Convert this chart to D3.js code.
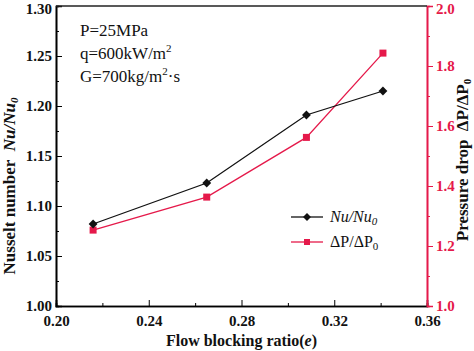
<!DOCTYPE html>
<meta charset="utf-8">
<script src="https://d3js.org/d3.v7.min.js"></script>
<style>
  body { margin: 0; background: #fff; }
  svg text { font-family: "Liberation Serif", "DejaVu Serif", serif; }
</style>
<body>
<div id="chart"></div>
<script>
// data
var blockRatio = [0.216, 0.265, 0.308, 0.341];
var nuRatio = [1.082, 1.123, 1.191, 1.215];
var dpRatio = [1.253, 1.363, 1.562, 1.843];
var xTicks = [0.20, 0.24, 0.28, 0.32, 0.36];
var yTicks = [1.00, 1.05, 1.10, 1.15, 1.20, 1.25, 1.30];
var y2Ticks = [1.0, 1.2, 1.4, 1.6, 1.8, 2.0];

var width = 474, height = 351;
var margin = {top: 6, right: 47, bottom: 45, left: 56};
var w = width - margin.left - margin.right;
var h = height - margin.top - margin.bottom;
var red = "#e5194a";

var svg = d3.select("#chart").append("svg")
  .attr("width", width).attr("height", height);
var g = svg.append("g")
  .attr("transform", "translate(" + margin.left + "," + margin.top + ")");

var x = d3.scaleLinear().domain([0.20, 0.36]).range([0, w]);
var y = d3.scaleLinear().domain([1.00, 1.30]).range([h, 0]);
var y2 = d3.scaleLinear().domain([1.0, 2.0]).range([h, 0]);

// minor ticks
var xMinor = d3.range(0.22, 0.36, 0.04);
var yMinor = d3.range(1.025, 1.30, 0.05);
var y2Minor = d3.range(1.1, 2.0, 0.2);

// bottom axis, ticks inward
var xAxis = g.append("g").attr("transform", "translate(0," + h + ")")
  .call(d3.axisBottom(x).tickValues(xTicks).tickFormat(d3.format(".2f")).tickSize(-6).tickPadding(9));
g.append("g").attr("transform", "translate(0," + h + ")")
  .call(d3.axisBottom(x).tickValues(xMinor).tickFormat("").tickSize(-3));

// left axis, ticks inward
var yAxis = g.append("g")
  .call(d3.axisLeft(y).tickValues(yTicks).tickFormat(d3.format(".2f")).tickSize(-6).tickPadding(4));
g.append("g")
  .call(d3.axisLeft(y).tickValues(yMinor).tickFormat("").tickSize(-3));

// right axis, red, ticks outward
var y2Axis = g.append("g").attr("transform", "translate(" + w + ",0)")
  .call(d3.axisRight(y2).tickValues(y2Ticks).tickFormat(d3.format(".1f")).tickSize(6).tickPadding(3));
var y2Min = g.append("g").attr("transform", "translate(" + w + ",0)")
  .call(d3.axisRight(y2).tickValues(y2Minor).tickFormat("").tickSize(3));

// top frame
g.append("line").attr("x1", 0).attr("x2", w).attr("y1", 0).attr("y2", 0)
  .attr("stroke", "#222").attr("stroke-width", 1.6);

g.selectAll(".domain").attr("stroke-width", 1.6);
[xAxis, yAxis].forEach(function(a) {
  a.selectAll("text").attr("font-size", 15).attr("font-weight", "bold").attr("fill", "#111");
});
y2Axis.selectAll("text").attr("font-size", 15).attr("font-weight", "bold").attr("fill", red);
y2Axis.selectAll("line, path").attr("stroke", red);
y2Min.selectAll("line, path").attr("stroke", red);
g.selectAll("text").attr("font-family", "Liberation Serif, serif");

// keep the top labels inside the page
yAxis.selectAll(".tick text").filter(function(d) { return d === 1.30; }).attr("dy", "0.5em");
y2Axis.selectAll(".tick text").filter(function(d) { return d === 2.0; }).attr("dy", "0.5em");

// lines
var lineNu = d3.line().x(function(d, i) { return x(blockRatio[i]); }).y(function(d) { return y(d); });
var lineDp = d3.line().x(function(d, i) { return x(blockRatio[i]); }).y(function(d) { return y2(d); });

g.append("path").datum(dpRatio).attr("d", lineDp)
  .attr("fill", "none").attr("stroke", red).attr("stroke-width", 1.3);
g.append("path").datum(nuRatio).attr("d", lineNu)
  .attr("fill", "none").attr("stroke", "#111").attr("stroke-width", 1.3);

g.selectAll(".sq").data(dpRatio).enter().append("rect")
  .attr("x", function(d, i) { return x(blockRatio[i]) - 3.5; })
  .attr("y", function(d) { return y2(d) - 3.5; })
  .attr("width", 7).attr("height", 7).attr("fill", red);

var diamond = d3.symbol().type(d3.symbolDiamond2).size(50);
g.selectAll(".dm").data(nuRatio).enter().append("path")
  .attr("d", diamond)
  .attr("transform", function(d, i) { return "translate(" + x(blockRatio[i]) + "," + y(d) + ")"; })
  .attr("fill", "#111");

// annotation
var note = g.append("text").attr("font-size", 17).attr("fill", "#111");
note.append("tspan").attr("x", 24).attr("y", 30).text("P=25MPa");
note.append("tspan").attr("x", 24).attr("y", 53).text("q=600kW/m");
note.append("tspan").attr("dy", -7).attr("font-size", 11).text("2");
note.append("tspan").attr("x", 24).attr("y", 76).text("G=700kg/m");
note.append("tspan").attr("dy", -7).attr("font-size", 11).text("2");
note.append("tspan").attr("dy", 7).text("·s");

// legend
var leg = g.append("g").attr("transform", "translate(" + (291 - margin.left) + "," + (217 - margin.top) + ")");
leg.append("line").attr("x1", 0).attr("x2", 32).attr("stroke", "#111").attr("stroke-width", 1.3);
leg.append("path").attr("d", d3.symbol().type(d3.symbolDiamond2).size(40)).attr("transform", "translate(16,0)").attr("fill", "#111");
var l1 = leg.append("text").attr("x", 39).attr("y", 5).attr("font-size", 16).attr("fill", "#111");
l1.append("tspan").attr("font-style", "italic").text("Nu/Nu");
l1.append("tspan").attr("font-style", "italic").attr("font-size", 11).attr("dy", 3).text("0");
leg.append("line").attr("x1", 0).attr("x2", 32).attr("y1", 25).attr("y2", 25).attr("stroke", red).attr("stroke-width", 1.3);
leg.append("rect").attr("x", 13).attr("y", 22).attr("width", 6).attr("height", 6).attr("fill", red);
var l2 = leg.append("text").attr("x", 39).attr("y", 30).attr("font-size", 16).attr("fill", "#111");
l2.append("tspan").text("ΔP/ΔP");
l2.append("tspan").attr("font-size", 11).attr("dy", 3).text("0");

// axis titles
svg.append("text").attr("x", margin.left + w / 2).attr("y", 346)
  .attr("text-anchor", "middle").attr("font-size", 16).attr("font-weight", "bold").attr("fill", "#111")
  .call(function(t) {
    t.append("tspan").text("Flow blocking ratio(");
    t.append("tspan").attr("font-style", "italic").text("e");
    t.append("tspan").text(")");
  });

var yl = svg.append("text").attr("transform", "translate(15,186) rotate(-90)")
  .attr("text-anchor", "middle").attr("font-size", 17).attr("font-weight", "bold").attr("fill", "#111");
yl.append("tspan").text("Nusselt number\u00a0\u00a0");
yl.append("tspan").attr("font-style", "italic").text("Nu/Nu");
yl.append("tspan").attr("font-style", "italic").attr("font-size", 11).attr("dy", 3).text("0");

var yr = svg.append("text").attr("transform", "translate(468,160) rotate(-90)")
  .attr("text-anchor", "middle").attr("font-size", 17).attr("font-weight", "bold").attr("fill", "#111");
yr.append("tspan").text("Pressure drop\u00a0\u00a0ΔP/ΔP");
yr.append("tspan").attr("font-size", 11).attr("dy", 3).text("0");
</script>
</body>
